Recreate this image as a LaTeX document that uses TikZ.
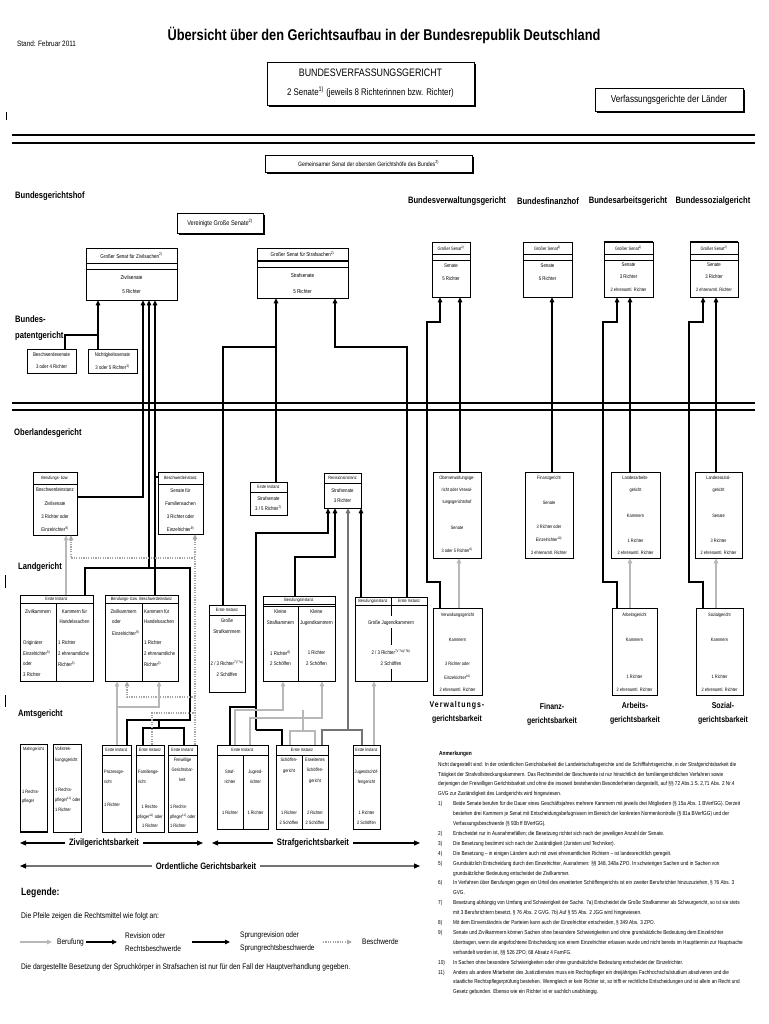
\documentclass[tikz,border=0pt]{standalone}
\usepackage{fontspec}
\setmainfont{Liberation Sans}[FakeStretch=0.82]
\usetikzlibrary{arrows.meta,fit}
\newcounter{tn}
\newcommand\fn[1]{\textsuperscript{#1)}}
\newcommand\fs[1]{\fontsize{#1}{#1}\selectfont}
\newcommand\tx[3][]{\stepcounter{tn}\node[txt,#1] (t\arabic{tn}) at (#2) {#3};}
\newcommand\shd[1]{\draw[line width=1.4pt] ([xshift=0.7pt,yshift=-2pt]#1.north east) -- ([xshift=0.7pt,yshift=-0.7pt]#1.south east) -- ([xshift=2pt,yshift=-0.7pt]#1.south west);}
\tikzset{
 txt/.style={inner sep=0pt, font=\fs{5.3}},
 sm/.style={font=\fs{4.8}},
 hd/.style={font=\fs{4.6}},
 bx/.style={draw, line width=0.7pt, inner sep=0pt},
 rev/.style={line width=2.2pt},
 spr/.style={line width=1.1pt},
 sp2/.style={line width=1.6pt, color=black!55},
 ber/.style={line width=2.2pt, color=black!28},
 bes/.style={line width=1.3pt, color=black!35, dash pattern=on 1.2pt off 1.2pt},
 tip/.style={-{Triangle[length=5pt,width=4.5pt]}},
 lab/.style={inner sep=0pt, font=\bfseries\fs{9.3}},
 jur/.style={inner sep=0pt, align=center, font=\bfseries\fontsize{8.5}{14}\selectfont},
 lt/.style={inner sep=0pt, anchor=west, align=left, font=\fontsize{8}{12.5}\selectfont},
}
\begin{document}
\begin{tikzpicture}[x=1pt,y=-1pt]
\fill[white] (0,0) rectangle (768,1024);
\useasboundingbox (0,0) rectangle (768,1024);

% ---------- header
\tx[anchor=west,font=\fs{7.8}]{17,44}{Stand: Februar 2011}
\tx[font=\bfseries\fs{15.6}]{384,35}{Übersicht über den Gerichtsaufbau in der Bundesrepublik Deutschland}
\node[bx,fit={(267,62)(474,105)}] (bvg) {}; \shd{bvg}
\tx[font=\fs{10.8}]{370.5,73}{BUNDESVERFASSUNGSGERICHT}
\tx[font=\fs{9.6}]{370.5,92}{2 Senate\fn{1} (jeweils 8 Richterinnen bzw. Richter)}
\node[bx,fit={(595,88)(743,111)}] (lvg) {}; \shd{lvg}
\tx[font=\fs{10}]{669,99.5}{Verfassungsgerichte der Länder}
\draw[line width=0.8pt] (6,112)--(6,120) (5,575)--(5,588) (5,695)--(5,707);
\draw[line width=1.1pt] (12,135)--(755,135) (12,143)--(755,143) (12,403)--(755,403) (12,410)--(755,410);
\node[bx,fit={(265,155)(472,172)}] (gms) {}; \shd{gms}
\tx[font=\fs{6.3}]{368.5,163.5}{Gemeinsamer Senat der obersten Gerichtshöfe des Bundes\fn{2}}

% ---------- level labels
\node[lab,anchor=west] (lbgh) at (15,196) {Bundesgerichtshof};
\node[lab] (lbvw) at (457,201) {Bundesverwaltungsgericht};
\node[lab] (lbfh) at (548,201) {Bundesfinanzhof};
\node[lab] (lbag) at (628,201) {Bundesarbeitsgericht};
\node[lab] (lbsg) at (713,201) {Bundessozialgericht};
\node[lab,anchor=west,align=left,font=\bfseries\fontsize{9.3}{15.5}\selectfont] (lbpg) at (15,328) {Bundes-\\patentgericht};
\node[lab,anchor=west] (lolg) at (14,433) {Oberlandesgericht};
\node[lab,anchor=west] (llg) at (18,567) {Landgericht};
\node[lab,anchor=west] (lamg) at (18,714) {Amtsgericht};

% ---------- BGH
\node[bx,fit={(177,213)(263,233)}] (vgs) {}; \shd{vgs}
\tx[font=\fs{6.8}]{220,223}{Vereinigte Große Senate\fn{2}}
\node[bx,fit={(86,248)(177,300)}] (bghz) {};
\draw[line width=0.6pt] (86,263)--(177,263); \draw[line width=1.3pt] (86,269.5)--(177,269.5);
\tx[font=\fs{5.6}]{131.5,255.5}{Großer Senat für Zivilsachen\fn{2}}
\tx[font=\fs{5.6}]{131.5,277}{Zivilsenate}
\tx[font=\fs{5.6}]{131.5,291}{5 Richter}
\node[bx,fit={(257,248)(348,298)}] (bghs) {};
\draw[line width=1.3pt] (257,261)--(348,261) (257,267.5)--(348,267.5);
\tx[font=\fs{5.6}]{302.5,254}{Großer Senat für Strafsachen\fn{2}}
\tx[font=\fs{5.6}]{302.5,276}{Strafsenate}
\tx[font=\fs{5.6}]{302.5,291}{5 Richter}

% ---------- other federal courts
\node[bx,fit={(432,242)(470,297)}] (bvwg) {};
\draw[line width=0.6pt] (432,254)--(470,254) (432,260)--(470,260);
\tx[sm]{451,248}{Großer Senat\fn{2}} \tx{451,266}{Senate} \tx{451,279}{5 Richter}
\node[bx,fit={(523,242)(572,297)}] (bfh) {};
\draw[line width=0.6pt] (523,254)--(572,254) (523,260)--(572,260);
\tx[sm]{547.5,248}{Großer Senat\fn{2}} \tx{547.5,266}{Senate} \tx{547.5,279}{5 Richter}
\node[bx,fit={(604,242)(653,297)}] (bag) {};
\draw[line width=1.4pt] (604,242)--(653,242);
\draw[line width=0.6pt] (604,254)--(653,254) (604,260)--(653,260);
\tx[sm]{628.5,248}{Großer Senat\fn{2}} \tx{628.5,265}{Senate} \tx{628.5,277}{3 Richter} \tx[sm]{628.5,290}{2 ehrenamtl. Richter}
\node[bx,fit={(690,242)(738,297)}] (bsg) {};
\draw[line width=1.4pt] (690,242)--(738,242);
\draw[line width=0.6pt] (690,254)--(738,254) (690,260)--(738,260);
\tx[sm]{714,248}{Großer Senat\fn{2}} \tx{714,265}{Senate} \tx{714,277}{3 Richter} \tx[sm]{714,290}{2 ehrenamtl. Richter}

% ---------- Bundespatentgericht
\node[bx,fit={(27,349)(76,373)}] (bpb) {};
\tx{51.5,355}{Beschwerdesenate} \tx{51.5,367}{3 oder 4 Richter}
\node[bx,fit={(88,349)(137,373)}] (bpn) {};
\tx{112.5,355}{Nichtigkeitssenate} \tx{112.5,367}{3 oder 5 Richter\fn{3}}

% ---------- OLG
\node[bx,fit={(33,472)(77,535)}] (olgz) {};
\draw[line width=0.6pt] (33,484)--(77,484);
\tx[hd]{55,478}{Berufungs- bzw.} \tx{55,490}{Beschwerdeinstanz} \tx{55,504}{Zivilsenate}
\tx{55,517}{3 Richter oder} \tx{55,529}{Einzelrichter\fn{9}}
\node[bx,fit={(158,472)(203,534)}] (olgf) {};
\draw[line width=0.6pt] (158,484)--(203,484);
\tx[hd]{180.5,478}{Beschwerdeinstanz} \tx{180.5,491}{Senate für} \tx{180.5,504}{Familiensachen}
\tx{180.5,517}{3 Richter oder} \tx{180.5,529}{Einzelrichter\fn{9}}
\node[bx,fit={(250,482)(287,515)}] (o1) {};
\draw[line width=0.6pt] (250,492)--(287,492);
\tx[hd]{268.5,487}{Erste Instanz} \tx{268.5,498.5}{Strafsenate} \tx{268.5,508.5}{3 / 5 Richter\fn{7}}
\node[bx,fit={(324,473)(361,508)}] (o2) {};
\draw[line width=0.6pt] (324,483)--(361,483);
\tx[hd]{342.5,478}{Revisionsinstanz} \tx{342.5,491}{Strafsenate} \tx{342.5,501}{3 Richter}
\node[bx,fit={(433,472)(481,558)}] (ovg) {};
\tx[sm]{457,478}{Oberverwaltungsge-} \tx[sm]{457,490}{richt oder Verwal-} \tx[sm]{457,502}{tungsgerichtshof}
\tx[sm]{457,528}{Senate} \tx[sm]{457,550}{3 oder 5 Richter\fn{6}}
\node[bx,fit={(525,472)(573,558)}] (fg) {};
\tx[sm]{549,478}{Finanzgericht} \tx[sm]{549,503}{Senate} \tx[sm]{549,527}{3 Richter oder}
\tx[sm]{549,539}{Einzelrichter\fn{10}} \tx[sm]{549,553}{2 ehrenamtl. Richter}
\node[bx,fit={(611,472)(660,558)}] (lag) {};
\tx[sm]{635.5,478}{Landesarbeits-} \tx[sm]{635.5,490}{gericht} \tx[sm]{635.5,516}{Kammern}
\tx[sm]{635.5,541}{1 Richter} \tx[sm]{635.5,553}{2 ehrenamtl. Richter}
\node[bx,fit={(695,472)(742,558)}] (lsg) {};
\tx[sm]{718.5,478}{Landessozial-} \tx[sm]{718.5,490}{gericht} \tx[sm]{718.5,516}{Senate}
\tx[sm]{718.5,541}{3 Richter} \tx[sm]{718.5,553}{2 ehrenamtl. Richter}

% ---------- LG
\node[bx,fit={(20,595)(93,681)}] (lga) {};
\draw[line width=0.6pt] (20,603)--(93,603) (56,603)--(56,681);
\tx[hd]{56.5,599}{Erste Instanz}
\tx{38,612}{Zivilkammern}
\tx[anchor=west]{23,643}{Originärer} \tx[anchor=west]{23,653}{Einzelrichter\fn{5}}
\tx[anchor=west]{23,664}{oder} \tx[anchor=west]{23,675}{3 Richter}
\tx{74.5,612}{Kammern für} \tx{74.5,622}{Handelssachen}
\tx[anchor=west]{58,643}{1 Richter} \tx[anchor=west]{58,654}{2 ehrenamtliche} \tx[anchor=west]{58,664}{Richter\fn{3}}
\node[bx,fit={(105,595)(178,681)}] (lgb) {};
\draw[line width=0.6pt] (105,603)--(178,603) (142,603)--(142,681);
\tx[hd]{141.5,599}{Berufungs- bzw. Beschwerdeinstanz}
\tx{123.5,612}{Zivilkammern}
\tx[anchor=west]{112,622}{oder} \tx[anchor=west]{112,633}{Einzelrichter\fn{9}}
\tx[anchor=west]{144,612}{Kammern für} \tx[anchor=west]{144,622}{Handelssachen}
\tx[anchor=west]{144,643}{1 Richter} \tx[anchor=west]{144,654}{2 ehrenamtliche} \tx[anchor=west]{144,664}{Richter\fn{3}}
\node[bx,fit={(209,605)(245,692)}] (l1) {};
\draw[line width=0.6pt] (209,615)--(245,615);
\tx[hd]{227,610}{Erste Instanz} \tx{227,621}{Große} \tx{227,632}{Strafkammern}
\tx{227,663}{2 / 3 Richter\textsuperscript{7)/ 7a)}} \tx{227,675}{2 Schöffen}
\node[bx,fit={(263,596)(335,681)}] (l2) {};
\draw[line width=0.6pt] (263,604)--(335,604) (298,606)--(298,681); \draw[line width=1.2pt] (263,606.5)--(335,606.5);
\tx[hd]{299,600}{Berufungsinstanz}
\tx{280.5,612}{Kleine} \tx{280.5,623}{Strafkammern} \tx{280.5,653}{1 Richter\fn{6}} \tx{280.5,664}{2 Schöffen}
\tx{316.5,612}{Kleine} \tx{316.5,623}{Jugendkammern} \tx{316.5,653}{1 Richter} \tx{316.5,664}{2 Schöffen}
\node[bx,fit={(355,597)(427,681)}] (l3) {};
\draw[line width=1pt] (355,605.5)--(427,605.5);
\draw[line width=0.6pt] (391,597)--(391,616) (391,628)--(391,645) (391,669)--(391,681);
\tx[hd]{373,601}{Berufungsinstanz} \tx[hd]{409,601}{Erste Instanz}
\tx{391,623}{Große Jugendkammern} \tx{391,652}{2 / 3 Richter\textsuperscript{7)/ 7a)/ 7b)}} \tx{391,664}{2 Schöffen}
\node[bx,fit={(433,608)(482,695)}] (vg) {};
\tx[sm]{457.5,615}{Verwaltungsgericht} \tx[sm]{457.5,640}{Kammern} \tx[sm]{457.5,664}{3 Richter oder}
\tx[sm]{457.5,677}{Einzelrichter\fn{10}} \tx[sm]{457.5,690}{2 ehrenamtl. Richter}
\node[bx,fit={(612,608)(657,695)}] (arbg) {};
\tx[sm]{634.5,615}{Arbeitsgericht} \tx[sm]{634.5,640}{Kammern} \tx[sm]{634.5,677}{1 Richter} \tx[sm]{634.5,690}{2 ehrenamtl. Richter}
\node[bx,fit={(696,608)(743,695)}] (sg) {};
\tx[sm]{719.5,615}{Sozialgericht} \tx[sm]{719.5,640}{Kammern} \tx[sm]{719.5,677}{1 Richter} \tx[sm]{719.5,690}{2 ehrenamtl. Richter}
\node[jur] (jvw) at (457,712) {{\addfontfeature{LetterSpace=12}Verwaltungs-}\\gerichtsbarkeit};
\node[jur] (jfi) at (552,714) {Finanz-\\gerichtsbarkeit};
\node[jur] (jar) at (635,713) {Arbeits-\\gerichtsbarkeit};
\node[jur] (jso) at (723,713) {Sozial-\\gerichtsbarkeit};

% ---------- AG
\node[bx,fit={(20,744)(47,832)}] (agm) {}; \draw[line width=2pt] (20,832)--(47,832);
\tx[hd]{33.5,749}{Mahngericht}
\tx[sm,anchor=west]{22,792}{1 Rechts-} \tx[sm,anchor=west]{22,801}{pfleger}
\node[bx,fit={(53,744)(81,832)}] (agv) {};
\tx[sm,anchor=west]{55,749}{Vollstrek-} \tx[sm,anchor=west]{55,760}{kungsgericht}
\tx[sm,anchor=west]{55,790}{1 Rechts-} \tx[sm,anchor=west]{55,800}{pfleger\fn{11} oder} \tx[sm,anchor=west]{55,810}{1 Richter}
\node[bx,fit={(102,745)(131,832)}] (agp) {};
\draw[line width=0.6pt] (102,755)--(131,755);
\tx[hd]{116.5,750}{Erste Instanz}
\tx[sm,anchor=west]{104,772}{Prozessge-} \tx[sm,anchor=west]{104,782}{richt} \tx[sm,anchor=west]{104,805}{1 Richter}
\node[bx,fit={(136,745)(164,832)}] (agf) {};
\draw[line width=0.6pt] (136,755)--(164,755);
\tx[hd]{150,750}{Erste Instanz}
\tx[sm,anchor=west]{138,772}{Familienge-} \tx[sm,anchor=west]{138,782}{richt}
\tx[sm]{150,807}{1 Rechts-} \tx[sm]{150,817}{pfleger\fn{11} oder} \tx[sm]{150,826}{1 Richter}
\node[bx,fit={(168,745)(197,832)}] (agfg) {};
\draw[line width=0.6pt] (168,755)--(197,755);
\tx[hd]{182.5,750}{Erste Instanz}
\tx[sm]{182.5,760}{Freiwillige} \tx[sm]{182.5,770}{Gerichtsbar-} \tx[sm]{182.5,780}{keit}
\tx[sm,anchor=west]{170,807}{1 Rechts-} \tx[sm,anchor=west]{170,817}{pfleger\fn{11} oder} \tx[sm,anchor=west]{170,826}{1 Richter}
\node[bx,fit={(217,745)(268,829)}] (s1) {};
\draw[line width=0.6pt] (217,755)--(268,755) (243,755)--(243,829);
\tx[hd]{242.5,750}{Erste Instanz}
\tx[sm]{230,772}{Straf-} \tx[sm]{230,782}{richter} \tx[sm]{230,813}{1 Richter}
\tx[sm]{255.5,772}{Jugend-} \tx[sm]{255.5,782}{richter} \tx[sm]{255.5,813}{1 Richter}
\node[bx,fit={(276,745)(328,829)}] (s2) {};
\draw[line width=0.6pt] (276,755)--(328,755) (302,755)--(302,829);
\tx[hd]{302,750}{Erste Instanz}
\tx[sm]{289,760}{Schöffen-} \tx[sm]{289,771}{gericht} \tx[sm]{289,813}{1 Richter} \tx[sm]{289,823}{2 Schöffen}
\tx[sm]{315,759.5}{Erweitertes} \tx[sm]{315,770}{Schöffen-} \tx[sm]{315,781}{gericht} \tx[sm]{315,813}{2 Richter} \tx[sm]{315,823}{2 Schöffen}
\node[bx,fit={(353,745)(380,829)}] (s3) {};
\draw[line width=0.6pt] (353,755)--(380,755);
\tx[hd]{366.5,750}{Erste Instanz}
\tx[sm]{366.5,772}{Jugendschöf-} \tx[sm]{366.5,782}{fengericht} \tx[sm]{366.5,813}{1 Richter} \tx[sm]{366.5,823}{2 Schöffen}

% ---------- connectors: civil
\draw[rev] (bpb.north -| 65,0) |- (98,335);
\draw[rev,tip] (bpn.north -| 98,0) -- (bghz.south -| 98,0);
\draw[rev,tip] (olgz.east |- 0,497) -| (bghz.south -| 143,0);
\draw[spr,tip] (lga.north -| 85,0) |- (149,568) -- (bghz.south -| 149,0);
\draw[spr] (agp.north -| 127,0) |- (190,720) -- (190,568) -- (149,568);
\draw[spr] (agf.north -| 143,0) |- (184,728) -- (agfg.north -| 184,0);
\draw[spr] (159,728) -- (159,720);
\draw[rev,tip] (lgb.north -| 155,0) -- (bghz.south -| 155,0);
\draw[rev] (olgf.west |- 0,477) -- (155,477);
\draw[ber,tip] (lga.north -| 66,0) -- (olgz.south -| 66,0);
\draw[bes,tip] (195,558) -| (olgz.south -| 71,0);
\draw[bes,tip] (agfg.north -| 195,0) -- (olgf.south -| 195,0);
\draw[bes] (agf.north -| 152,0) |- (195,713);
\draw[bes,tip] (195,697) -| (lgb.south -| 127,0);
\draw[ber,tip] (agp.north -| 117,0) -- (lgb.south -| 117,0);
\draw[ber,tip] (117,707) -| (lgb.south -| 159,0);

% ---------- connectors: criminal
\draw[rev,tip] (o1.north -| 276,0) -- (bghs.south -| 276,0);
\draw[rev] (l1.north -| 223,0) |- (276,347);
\draw[rev,tip] (l3.north -| 407,0) |- (335,347) -- (bghs.south -| 335,0);
\draw[rev,tip] (l2.north -| 295,0) |- (335,557) -- (o2.south -| 335,0);
\draw[rev,tip] (l3.north -| 361,0) -- (o2.south -| 361,0);
\draw[spr,tip] (256,730) -- (256,533) -| (o2.south -| 328,0);
\draw[spr] (s2.north -| 282,0) |- (256,730);
\draw[spr] (s1.north -| 230,0) |- (256,707);
\draw[sp2] (s3.north -| 362,0) |- (322,730) -- (s2.north -| 322,0);
\draw[sp2,tip] (348,730) -- (o2.south -| 348,0);
\draw[ber,tip] (s1.north -| 235,0) |- (283,710) -- (l2.south -| 283,0);
\draw[ber] (303,710) -- (303,731);
\draw[ber] (s2.north -| 290,0) |- (315,731) -- (s2.north -| 315,0);
\draw[ber,tip] (s1.north -| 250,0) |- (322,718) -- (l2.south -| 322,0);
\draw[ber,tip] (s3.north -| 374,0) -- (l3.south -| 374,0);

% ---------- connectors: other branches
\draw[rev,tip] (ovg.north -| 460,0) -- (bvwg.south -| 460,0);
\draw[rev,tip] (fg.north -| 552,0) -- (bfh.south -| 552,0);
\draw[rev,tip] (lag.north -| 630,0) -- (bag.south -| 630,0);
\draw[rev,tip] (lsg.north -| 716,0) -- (bsg.south -| 716,0);
\draw[spr,tip] (vg.north -| 440,0) |- (427,582) |- (440,322) -- (bvwg.south -| 440,0);
\draw[spr,tip] (arbg.north -| 617,0) |- (603,582) |- (617,322) -- (bag.south -| 617,0);
\draw[spr,tip] (sg.north -| 703,0) |- (689,582) |- (703,322) -- (bsg.south -| 703,0);
\draw[ber,tip] (vg.north -| 459,0) -- (ovg.south -| 459,0);
\draw[ber,tip] (arbg.north -| 630,0) -- (lag.south -| 630,0);
\draw[ber,tip] (sg.north -| 716,0) -- (lsg.south -| 716,0);

% ---------- jurisdiction arrows
\node[lab] (zgb) at (104,843) {Zivilgerichtsbarkeit};
\coordinate (zgbl) at (20,843); \coordinate (zgbr) at (203,843);
\draw[line width=1.1pt,{Triangle[length=6pt,width=5pt]}-] (zgbl) -- ([xshift=-4pt]zgb.west);
\draw[line width=1.1pt,-{Triangle[length=6pt,width=5pt]}] ([xshift=4pt]zgb.east) -- (zgbr);
\node[lab] (sgb) at (313,843) {Strafgerichtsbarkeit};
\coordinate (sgbl) at (212,843); \coordinate (sgbr) at (420,843);
\draw[line width=1.1pt,{Triangle[length=6pt,width=5pt]}-] (sgbl) -- ([xshift=-4pt]sgb.west);
\draw[line width=1.1pt,-{Triangle[length=6pt,width=5pt]}] ([xshift=4pt]sgb.east) -- (sgbr);
\node[lab] (ogb) at (206,866) {Ordentliche Gerichtsbarkeit};
\coordinate (ogbl) at (20,866); \coordinate (ogbr) at (420,866);
\draw[line width=1.1pt,black!55,{Triangle[length=6pt,width=5pt,color=black]}-] (ogbl) -- ([xshift=-4pt]ogb.west);
\draw[line width=1.1pt,black!55,-{Triangle[length=6pt,width=5pt,color=black]}] ([xshift=4pt]ogb.east) -- (ogbr);

% ---------- legend
\node[inner sep=0pt,anchor=west,font=\bfseries\fs{10.5}] (leg) at (21,893) {Legende:};
\node[inner sep=0pt,anchor=west,font=\fs{8.2}] (legp) at (21,916) {Die Pfeile zeigen die Rechtsmittel wie folgt an:};
\coordinate (la1) at (20,942); \node[lt] (lt1) at (57,942) {Berufung};
\draw[ber,tip] (la1) -- ([xshift=-5pt]lt1.west);
\coordinate (la2) at (86,942); \node[lt] (lt2) at (125,942) {Revision oder\\Rechtsbeschwerde};
\draw[rev,tip] (la2) -- ([xshift=-8pt]lt2.west);
\coordinate (la3) at (192,942); \node[lt] (lt3) at (240,942) {Sprungrevision oder\\Sprungrechtsbeschwerde};
\draw[spr,tip] (la3) -- ([xshift=-10pt]lt3.west);
\coordinate (la4) at (323,942); \node[lt] (lt4) at (362,942) {Beschwerde};
\draw[bes,tip] (la4) -- ([xshift=-10pt]lt4.west);
\node[inner sep=0pt,anchor=west,font=\fs{8.1}] (foot) at (21,967) {Die dargestellte Besetzung der Spruchkörper in Strafsachen ist nur für den Fall der Hauptverhandlung gegeben.};

% ---------- Anmerkungen
\node[inner sep=0pt,anchor=west,font=\bfseries\fs{5.9}] (anm) at (439,754) {Anmerkungen};
\node[inner sep=0pt,anchor=north west,font=\fontsize{5.72}{9.9}\selectfont] (anmt) at (438,759) {%
\begin{tabular}{@{}p{15pt}@{}l@{}}
\multicolumn{2}{@{}l@{}}{Nicht dargestellt sind: In der ordentlichen Gerichtsbarkeit die Landwirtschaftsgerichte und die Schifffahrtsgerichte, in der Strafgerichtsbarkeit die}\\
\multicolumn{2}{@{}l@{}}{Tätigkeit der Strafvollstreckungskammern. Das Rechtsmittel der Beschwerde ist nur hinsichtlich der familiengerichtlichen Verfahren sowie}\\
\multicolumn{2}{@{}l@{}}{derjenigen der Freiwilligen Gerichtsbarkeit und ohne die insoweit bestehenden Besonderheiten dargestellt, auf §§ 72 Abs.1 S. 2,71 Abs. 2 Nr.4}\\
\multicolumn{2}{@{}l@{}}{GVG zur Zuständigkeit des Landgerichts wird hingewiesen.}\\
1) & Beide Senate berufen für die Dauer eines Geschäftsjahres mehrere Kammern mit jeweils drei Mitgliedern (§ 15a Abs. 1 BVerfGG). Derzeit\\
 & bestehen drei Kammern je Senat mit Entscheidungsbefugnissen im Bereich der konkreten Normenkontrolle (§ 81a BVerfGG) und der\\
 & Verfassungsbeschwerde (§ 93b ff BVerfGG).\\
2) & Entscheidet nur in Ausnahmefällen; die Besetzung richtet sich nach der jeweiligen Anzahl der Senate.\\
3) & Die Besetzung bestimmt sich nach der Zuständigkeit (Juristen und Techniker).\\
4) & Die Besetzung – in einigen Ländern auch mit zwei ehrenamtlichen Richtern – ist landesrechtlich geregelt.\\
5) & Grundsätzlich Entscheidung durch den Einzelrichter, Ausnahmen: §§ 348, 348a ZPO. In schwierigen Sachen und in Sachen von\\
 & grundsätzlicher Bedeutung entscheidet die Zivilkammer.\\
6) & In Verfahren über Berufungen gegen ein Urteil des erweiterten Schöffengerichts ist ein zweiter Berufsrichter hinzuzuziehen, § 76 Abs. 3\\
 & GVG.\\
7) & Besetzung abhängig von Umfang und Schwierigkeit der Sache. 7a) Entscheidet die Große Strafkammer als Schwurgericht, so ist sie stets\\
 & mit 3 Berufsrichtern besetzt, § 76 Abs. 2 GVG. 7b) Auf § 55 Abs. 2 JGG wird hingewiesen.\\
8) & Mit dem Einverständnis der Parteien kann auch der Einzelrichter entscheiden, § 349 Abs. 3 ZPO.\\
9) & Senate und Zivilkammern können Sachen ohne besondere Schwierigkeiten und ohne grundsätzliche Bedeutung dem Einzelrichter\\
 & übertragen, wenn die angefochtene Entscheidung von einem Einzelrichter erlassen wurde und nicht bereits im Haupttermin zur Hauptsache\\
 & verhandelt worden ist, §§ 526 ZPO, 68 Absatz 4 FamFG.\\
10) & In Sachen ohne besondere Schwierigkeiten oder ohne grundsätzliche Bedeutung entscheidet der Einzelrichter.\\
11) & Anders als andere Mitarbeiter des Justizdienstes muss ein Rechtspfleger ein dreijähriges Fachhochschulstudium absolvieren und die\\
 & staatliche Rechtspflegerprüfung bestehen. Wenngleich er kein Richter ist, so trifft er rechtliche Entscheidungen und ist allein an Recht und\\
 & Gesetz gebunden. Ebenso wie ein Richter ist er sachlich unabhängig.
\end{tabular}};
\end{tikzpicture}
\end{document}
